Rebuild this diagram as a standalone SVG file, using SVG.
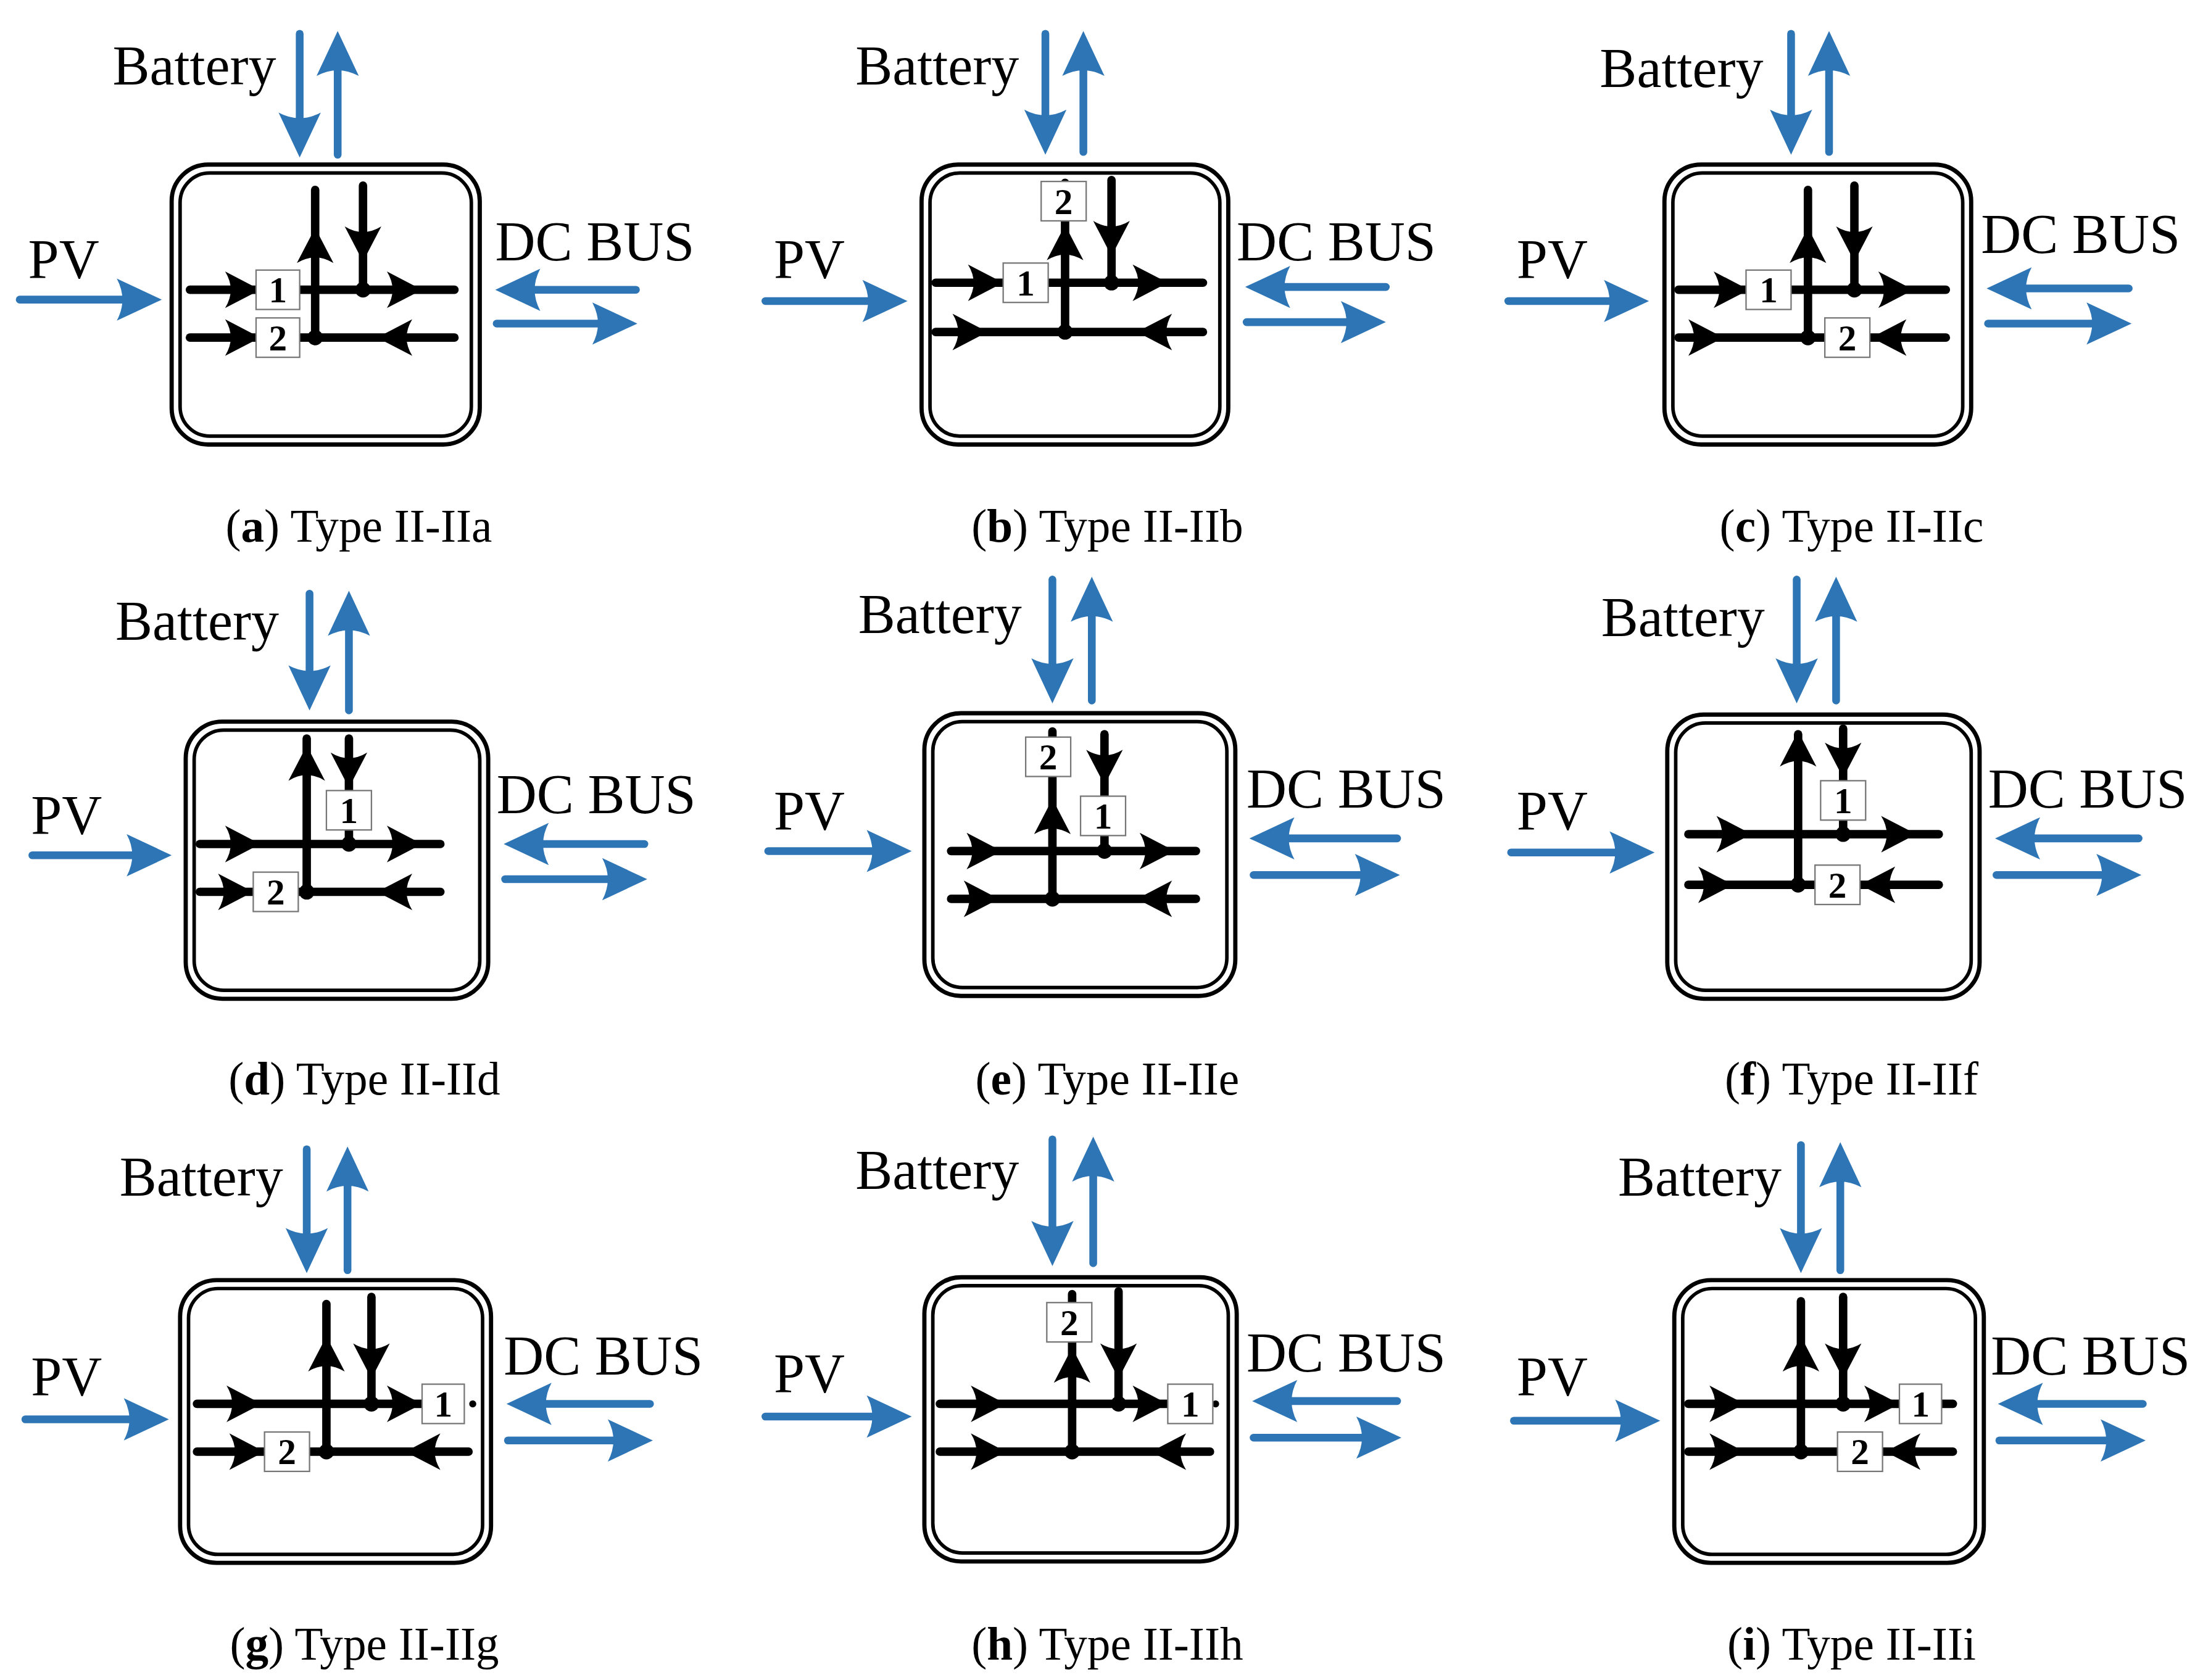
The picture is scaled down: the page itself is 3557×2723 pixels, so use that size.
<svg xmlns="http://www.w3.org/2000/svg" xmlns:xlink="http://www.w3.org/1999/xlink" width="3557" height="2723" viewBox="0 0 3557 2723">
<style>
.lbl{font-family:"Liberation Serif",serif;font-size:39.5px;fill:#000}
.cap{font-family:"Liberation Serif",serif;font-size:33px;fill:#000}
.num{font-family:"Liberation Serif",serif;font-size:26px;font-weight:bold;text-anchor:middle}
.bl{stroke:#2e75b6;stroke-width:5.5;stroke-linecap:round;fill:none}
.ln{stroke:#000;stroke-width:6;stroke-linecap:round;fill:none}
.ob{fill:#fff;stroke:#000;stroke-width:3}
.ib{fill:none;stroke:#000;stroke-width:2.5}
.nb{fill:#fff;stroke:#777;stroke-width:1}
</style>
<defs>
<path id="hb" d="M0,0 L-25,-13 Q-17,0 -25,13 Z" fill="#000"/>
<path id="hl" d="M0,0 L-32,-15 Q-24,0 -32,15 Z" fill="#2e75b6"/>
</defs>
<rect width="3557" height="2723" fill="#fff"/>
<g transform="scale(2.28)">
<!-- panel a -->
<g id="panel-a">
<rect class="ob" x="122" y="117" width="219" height="199" rx="26"/>
<rect class="ib" x="128" y="123" width="207" height="187" rx="21"/>
<text class="lbl" x="80" y="60">Battery</text><text class="lbl" x="20" y="198">PV</text><text class="lbl" x="352" y="185">DC BUS</text>
<text class="cap" x="255" y="385" text-anchor="middle">(<tspan font-weight="bold">a</tspan>) Type II-IIa</text>
<line class="bl" x1="213" y1="24" x2="213" y2="90"/><use href="#hl" transform="translate(213,112) rotate(90)"/>
<line class="bl" x1="240" y1="110" x2="240" y2="45"/><use href="#hl" transform="translate(240,22) rotate(-90)"/>
<line class="bl" x1="14" y1="213" x2="90" y2="213"/><use href="#hl" transform="translate(115,213)"/>
<line class="bl" x1="452" y1="206" x2="378" y2="206"/><use href="#hl" transform="translate(352,206) rotate(180)"/>
<line class="bl" x1="353" y1="230" x2="428" y2="230"/><use href="#hl" transform="translate(453,230)"/>
<line class="ln" x1="135" y1="206" x2="323" y2="206"/><line class="ln" x1="135" y1="240" x2="323" y2="240"/>
<line class="ln" x1="224" y1="240" x2="224" y2="135"/><line class="ln" x1="258" y1="132" x2="258" y2="206"/>
<circle cx="258" cy="206" r="5.5"/><circle cx="224" cy="240" r="5.5"/>
<use href="#hb" transform="translate(185,206)"/><use href="#hb" transform="translate(300,206)"/>
<use href="#hb" transform="translate(185,240)"/><use href="#hb" transform="translate(268,240) rotate(180)"/>
<use href="#hb" transform="translate(224,162) rotate(-90)"/><use href="#hb" transform="translate(258,186) rotate(90)"/>
<rect class="nb" x="182" y="192" width="31" height="28"/><text class="num" x="197.5" y="215">1</text>
<rect class="nb" x="182" y="226" width="31" height="28"/><text class="num" x="197.5" y="249">2</text>
</g>
<!-- panel b -->
<g id="panel-b">
<rect class="ob" x="655" y="117" width="218" height="199" rx="26"/>
<rect class="ib" x="661" y="123" width="206" height="187" rx="21"/>
<text class="lbl" x="608" y="60">Battery</text><text class="lbl" x="550" y="198">PV</text><text class="lbl" x="879" y="185">DC BUS</text>
<text class="cap" x="787" y="385" text-anchor="middle">(<tspan font-weight="bold">b</tspan>) Type II-IIb</text>
<line class="bl" x1="743" y1="24" x2="743" y2="88"/><use href="#hl" transform="translate(743,110) rotate(90)"/>
<line class="bl" x1="770" y1="108" x2="770" y2="45"/><use href="#hl" transform="translate(770,22) rotate(-90)"/>
<line class="bl" x1="544" y1="214" x2="620" y2="214"/><use href="#hl" transform="translate(645,214)"/>
<line class="bl" x1="985" y1="204" x2="911" y2="204"/><use href="#hl" transform="translate(885,204) rotate(180)"/>
<line class="bl" x1="886" y1="229" x2="960" y2="229"/><use href="#hl" transform="translate(985,229)"/>
<line class="ln" x1="665" y1="201" x2="855" y2="201"/><line class="ln" x1="665" y1="236" x2="855" y2="236"/>
<line class="ln" x1="757" y1="236" x2="757" y2="130"/><line class="ln" x1="790" y1="128" x2="790" y2="201"/>
<circle cx="790" cy="201" r="5.5"/><circle cx="757" cy="236" r="5.5"/>
<use href="#hb" transform="translate(713,201)"/><use href="#hb" transform="translate(830,201)"/>
<use href="#hb" transform="translate(702,236)"/><use href="#hb" transform="translate(808,236) rotate(180)"/>
<use href="#hb" transform="translate(757,160) rotate(-90)"/><use href="#hb" transform="translate(790,182) rotate(90)"/>
<rect class="nb" x="713" y="187" width="32" height="28"/><text class="num" x="729" y="210">1</text>
<rect class="nb" x="740" y="129" width="32" height="28"/><text class="num" x="756" y="152">2</text>
</g>
<!-- panel c -->
<g id="panel-c">
<rect class="ob" x="1183" y="117" width="218" height="199" rx="26"/>
<rect class="ib" x="1189" y="123" width="206" height="187" rx="21"/>
<text class="lbl" x="1137" y="62">Battery</text><text class="lbl" x="1078" y="198">PV</text><text class="lbl" x="1408" y="180">DC BUS</text>
<text class="cap" x="1316" y="385" text-anchor="middle">(<tspan font-weight="bold">c</tspan>) Type II-IIc</text>
<line class="bl" x1="1273" y1="24" x2="1273" y2="88"/><use href="#hl" transform="translate(1273,110) rotate(90)"/>
<line class="bl" x1="1300" y1="108" x2="1300" y2="45"/><use href="#hl" transform="translate(1300,22) rotate(-90)"/>
<line class="bl" x1="1072" y1="214" x2="1147" y2="214"/><use href="#hl" transform="translate(1172,214)"/>
<line class="bl" x1="1513" y1="205" x2="1438" y2="205"/><use href="#hl" transform="translate(1412,205) rotate(180)"/>
<line class="bl" x1="1413" y1="230" x2="1490" y2="230"/><use href="#hl" transform="translate(1515,230)"/>
<line class="ln" x1="1193" y1="206" x2="1383" y2="206"/><line class="ln" x1="1193" y1="240" x2="1383" y2="240"/>
<line class="ln" x1="1285" y1="240" x2="1285" y2="135"/><line class="ln" x1="1318" y1="132" x2="1318" y2="206"/>
<circle cx="1318" cy="206" r="5.5"/><circle cx="1285" cy="240" r="5.5"/>
<use href="#hb" transform="translate(1243,206)"/><use href="#hb" transform="translate(1360,206)"/>
<use href="#hb" transform="translate(1225,240)"/><use href="#hb" transform="translate(1330,240) rotate(180)"/>
<use href="#hb" transform="translate(1285,162) rotate(-90)"/><use href="#hb" transform="translate(1318,186) rotate(90)"/>
<rect class="nb" x="1241" y="192" width="32" height="28"/><text class="num" x="1257" y="215">1</text>
<rect class="nb" x="1297" y="226" width="32" height="28"/><text class="num" x="1313" y="249">2</text>
</g>
<!-- panel d -->
<g id="panel-d">
<rect class="ob" x="132" y="513" width="215" height="197" rx="26"/>
<rect class="ib" x="138" y="519" width="203" height="185" rx="21"/>
<text class="lbl" x="82" y="455">Battery</text><text class="lbl" x="22" y="593">PV</text><text class="lbl" x="353" y="578">DC BUS</text>
<text class="cap" x="259" y="778" text-anchor="middle">(<tspan font-weight="bold">d</tspan>) Type II-IId</text>
<line class="bl" x1="220" y1="422" x2="220" y2="483"/><use href="#hl" transform="translate(220,505) rotate(90)"/>
<line class="bl" x1="248" y1="505" x2="248" y2="443"/><use href="#hl" transform="translate(248,420) rotate(-90)"/>
<line class="bl" x1="23" y1="608" x2="97" y2="608"/><use href="#hl" transform="translate(122,608)"/>
<line class="bl" x1="458" y1="600" x2="384" y2="600"/><use href="#hl" transform="translate(358,600) rotate(180)"/>
<line class="bl" x1="359" y1="625" x2="435" y2="625"/><use href="#hl" transform="translate(460,625)"/>
<line class="ln" x1="142" y1="600" x2="313" y2="600"/><line class="ln" x1="142" y1="634" x2="313" y2="634"/>
<line class="ln" x1="218" y1="634" x2="218" y2="525"/><line class="ln" x1="248" y1="525" x2="248" y2="600"/>
<circle cx="248" cy="600" r="5.5"/><circle cx="218" cy="634" r="5.5"/>
<use href="#hb" transform="translate(185,600)"/><use href="#hb" transform="translate(300,600)"/>
<use href="#hb" transform="translate(180,634)"/><use href="#hb" transform="translate(268,634) rotate(180)"/>
<use href="#hb" transform="translate(218,530) rotate(-90)"/><use href="#hb" transform="translate(248,560) rotate(90)"/>
<rect class="nb" x="232" y="562" width="32" height="28"/><text class="num" x="248" y="585">1</text>
<rect class="nb" x="180" y="620" width="32" height="28"/><text class="num" x="196" y="643">2</text>
</g>
<!-- panel e -->
<g id="panel-e">
<rect class="ob" x="657" y="507" width="221" height="201" rx="26"/>
<rect class="ib" x="663" y="513" width="209" height="189" rx="21"/>
<text class="lbl" x="610" y="450">Battery</text><text class="lbl" x="550" y="590">PV</text><text class="lbl" x="886" y="574">DC BUS</text>
<text class="cap" x="787" y="778" text-anchor="middle">(<tspan font-weight="bold">e</tspan>) Type II-IIe</text>
<line class="bl" x1="748" y1="412" x2="748" y2="478"/><use href="#hl" transform="translate(748,500) rotate(90)"/>
<line class="bl" x1="776" y1="498" x2="776" y2="433"/><use href="#hl" transform="translate(776,410) rotate(-90)"/>
<line class="bl" x1="546" y1="605" x2="623" y2="605"/><use href="#hl" transform="translate(648,605)"/>
<line class="bl" x1="993" y1="596" x2="914" y2="596"/><use href="#hl" transform="translate(888,596) rotate(180)"/>
<line class="bl" x1="891" y1="622" x2="970" y2="622"/><use href="#hl" transform="translate(995,622)"/>
<line class="ln" x1="676" y1="605" x2="850" y2="605"/><line class="ln" x1="676" y1="639" x2="850" y2="639"/>
<line class="ln" x1="748" y1="639" x2="748" y2="520"/><line class="ln" x1="785" y1="522" x2="785" y2="605"/>
<circle cx="785" cy="605" r="5.5"/><circle cx="748" cy="639" r="5.5"/>
<use href="#hb" transform="translate(712,605)"/><use href="#hb" transform="translate(835,605)"/>
<use href="#hb" transform="translate(710,639)"/><use href="#hb" transform="translate(808,639) rotate(180)"/>
<use href="#hb" transform="translate(748,568) rotate(-90)"/><use href="#hb" transform="translate(785,558) rotate(90)"/>
<rect class="nb" x="768" y="566" width="32" height="28"/><text class="num" x="784" y="589">1</text>
<rect class="nb" x="729" y="524" width="32" height="28"/><text class="num" x="745" y="547">2</text>
</g>
<!-- panel f -->
<g id="panel-f">
<rect class="ob" x="1185" y="508" width="222" height="202" rx="26"/>
<rect class="ib" x="1191" y="514" width="210" height="190" rx="21"/>
<text class="lbl" x="1138" y="452">Battery</text><text class="lbl" x="1078" y="590">PV</text><text class="lbl" x="1413" y="574">DC BUS</text>
<text class="cap" x="1316" y="778" text-anchor="middle">(<tspan font-weight="bold">f</tspan>) Type II-IIf</text>
<line class="bl" x1="1277" y1="412" x2="1277" y2="478"/><use href="#hl" transform="translate(1277,500) rotate(90)"/>
<line class="bl" x1="1305" y1="498" x2="1305" y2="433"/><use href="#hl" transform="translate(1305,410) rotate(-90)"/>
<line class="bl" x1="1074" y1="606" x2="1151" y2="606"/><use href="#hl" transform="translate(1176,606)"/>
<line class="bl" x1="1520" y1="596" x2="1444" y2="596"/><use href="#hl" transform="translate(1418,596) rotate(180)"/>
<line class="bl" x1="1419" y1="622" x2="1497" y2="622"/><use href="#hl" transform="translate(1522,622)"/>
<line class="ln" x1="1200" y1="593" x2="1378" y2="593"/><line class="ln" x1="1200" y1="629" x2="1378" y2="629"/>
<line class="ln" x1="1278" y1="629" x2="1278" y2="522"/><line class="ln" x1="1310" y1="518" x2="1310" y2="593"/>
<circle cx="1310" cy="593" r="5.5"/><circle cx="1278" cy="629" r="5.5"/>
<use href="#hb" transform="translate(1245,593)"/><use href="#hb" transform="translate(1362,593)"/>
<use href="#hb" transform="translate(1232,629)"/><use href="#hb" transform="translate(1322,629) rotate(180)"/>
<use href="#hb" transform="translate(1278,520) rotate(-90)"/><use href="#hb" transform="translate(1310,553) rotate(90)"/>
<rect class="nb" x="1294" y="555" width="32" height="28"/><text class="num" x="1310" y="578">1</text>
<rect class="nb" x="1290" y="615" width="32" height="28"/><text class="num" x="1306" y="638">2</text>
</g>
<!-- panel g -->
<g id="panel-g">
<rect class="ob" x="128" y="910" width="221" height="201" rx="26"/>
<rect class="ib" x="134" y="916" width="209" height="189" rx="21"/>
<text class="lbl" x="85" y="850">Battery</text><text class="lbl" x="22" y="992">PV</text><text class="lbl" x="358" y="977">DC BUS</text>
<text class="cap" x="259" y="1180" text-anchor="middle">(<tspan font-weight="bold">g</tspan>) Type II-IIg</text>
<line class="bl" x1="218" y1="817" x2="218" y2="883"/><use href="#hl" transform="translate(218,905) rotate(90)"/>
<line class="bl" x1="247" y1="903" x2="247" y2="838"/><use href="#hl" transform="translate(247,815) rotate(-90)"/>
<line class="bl" x1="18" y1="1009" x2="95" y2="1009"/><use href="#hl" transform="translate(120,1009)"/>
<line class="bl" x1="462" y1="998" x2="386" y2="998"/><use href="#hl" transform="translate(360,998) rotate(180)"/>
<line class="bl" x1="361" y1="1024" x2="439" y2="1024"/><use href="#hl" transform="translate(464,1024)"/>
<line class="ln" x1="140" y1="998" x2="310" y2="998"/><line class="ln" x1="140" y1="1032" x2="333" y2="1032"/>
<circle cx="336" cy="998" r="2.5"/>
<line class="ln" x1="232" y1="1032" x2="232" y2="927"/><line class="ln" x1="264" y1="922" x2="264" y2="998"/>
<circle cx="264" cy="998" r="5.5"/><circle cx="232" cy="1032" r="5.5"/>
<use href="#hb" transform="translate(186,998)"/><use href="#hb" transform="translate(300,998)"/>
<use href="#hb" transform="translate(188,1032)"/><use href="#hb" transform="translate(288,1032) rotate(180)"/>
<use href="#hb" transform="translate(232,950) rotate(-90)"/><use href="#hb" transform="translate(264,980) rotate(90)"/>
<rect class="nb" x="300" y="984" width="30" height="28"/><text class="num" x="315" y="1007">1</text>
<rect class="nb" x="188" y="1018" width="32" height="28"/><text class="num" x="204" y="1041">2</text>
</g>
<!-- panel h -->
<g id="panel-h">
<rect class="ob" x="657" y="908" width="222" height="202" rx="26"/>
<rect class="ib" x="663" y="914" width="210" height="190" rx="21"/>
<text class="lbl" x="608" y="845">Battery</text><text class="lbl" x="550" y="990">PV</text><text class="lbl" x="886" y="975">DC BUS</text>
<text class="cap" x="787" y="1180" text-anchor="middle">(<tspan font-weight="bold">h</tspan>) Type II-IIh</text>
<line class="bl" x1="748" y1="810" x2="748" y2="878"/><use href="#hl" transform="translate(748,900) rotate(90)"/>
<line class="bl" x1="777" y1="898" x2="777" y2="831"/><use href="#hl" transform="translate(777,808) rotate(-90)"/>
<line class="bl" x1="544" y1="1007" x2="623" y2="1007"/><use href="#hl" transform="translate(648,1007)"/>
<line class="bl" x1="993" y1="996" x2="916" y2="996"/><use href="#hl" transform="translate(890,996) rotate(180)"/>
<line class="bl" x1="891" y1="1022" x2="971" y2="1022"/><use href="#hl" transform="translate(996,1022)"/>
<line class="ln" x1="668" y1="998" x2="840" y2="998"/><line class="ln" x1="668" y1="1032" x2="860" y2="1032"/>
<circle cx="864" cy="998" r="2.5"/>
<line class="ln" x1="762" y1="1032" x2="762" y2="920"/><line class="ln" x1="795" y1="918" x2="795" y2="998"/>
<circle cx="795" cy="998" r="5.5"/><circle cx="762" cy="1032" r="5.5"/>
<use href="#hb" transform="translate(715,998)"/><use href="#hb" transform="translate(830,998)"/>
<use href="#hb" transform="translate(715,1032)"/><use href="#hb" transform="translate(818,1032) rotate(180)"/>
<use href="#hb" transform="translate(762,958) rotate(-90)"/><use href="#hb" transform="translate(795,980) rotate(90)"/>
<rect class="nb" x="830" y="984" width="32" height="28"/><text class="num" x="846" y="1007">1</text>
<rect class="nb" x="744" y="926" width="32" height="28"/><text class="num" x="760" y="949">2</text>
</g>
<!-- panel i -->
<g id="panel-i">
<rect class="ob" x="1190" y="910" width="220" height="201" rx="26"/>
<rect class="ib" x="1196" y="916" width="208" height="189" rx="21"/>
<text class="lbl" x="1150" y="850">Battery</text><text class="lbl" x="1078" y="992">PV</text><text class="lbl" x="1415" y="977">DC BUS</text>
<text class="cap" x="1316" y="1180" text-anchor="middle">(<tspan font-weight="bold">i</tspan>) Type II-IIi</text>
<line class="bl" x1="1280" y1="814" x2="1280" y2="883"/><use href="#hl" transform="translate(1280,905) rotate(90)"/>
<line class="bl" x1="1308" y1="903" x2="1308" y2="835"/><use href="#hl" transform="translate(1308,812) rotate(-90)"/>
<line class="bl" x1="1076" y1="1010" x2="1155" y2="1010"/><use href="#hl" transform="translate(1180,1010)"/>
<line class="bl" x1="1523" y1="998" x2="1446" y2="998"/><use href="#hl" transform="translate(1420,998) rotate(180)"/>
<line class="bl" x1="1421" y1="1024" x2="1500" y2="1024"/><use href="#hl" transform="translate(1525,1024)"/>
<line class="ln" x1="1200" y1="998" x2="1388" y2="998"/><line class="ln" x1="1200" y1="1032" x2="1388" y2="1032"/>
<line class="ln" x1="1280" y1="1032" x2="1280" y2="925"/><line class="ln" x1="1310" y1="922" x2="1310" y2="998"/>
<circle cx="1310" cy="998" r="5.5"/><circle cx="1280" cy="1032" r="5.5"/>
<use href="#hb" transform="translate(1240,998)"/><use href="#hb" transform="translate(1350,998)"/>
<use href="#hb" transform="translate(1240,1032)"/><use href="#hb" transform="translate(1340,1032) rotate(180)"/>
<use href="#hb" transform="translate(1280,950) rotate(-90)"/><use href="#hb" transform="translate(1310,980) rotate(90)"/>
<rect class="nb" x="1350" y="984" width="30" height="28"/><text class="num" x="1365" y="1007">1</text>
<rect class="nb" x="1306" y="1018" width="32" height="28"/><text class="num" x="1322" y="1041">2</text>
</g>
</g>
</svg>
